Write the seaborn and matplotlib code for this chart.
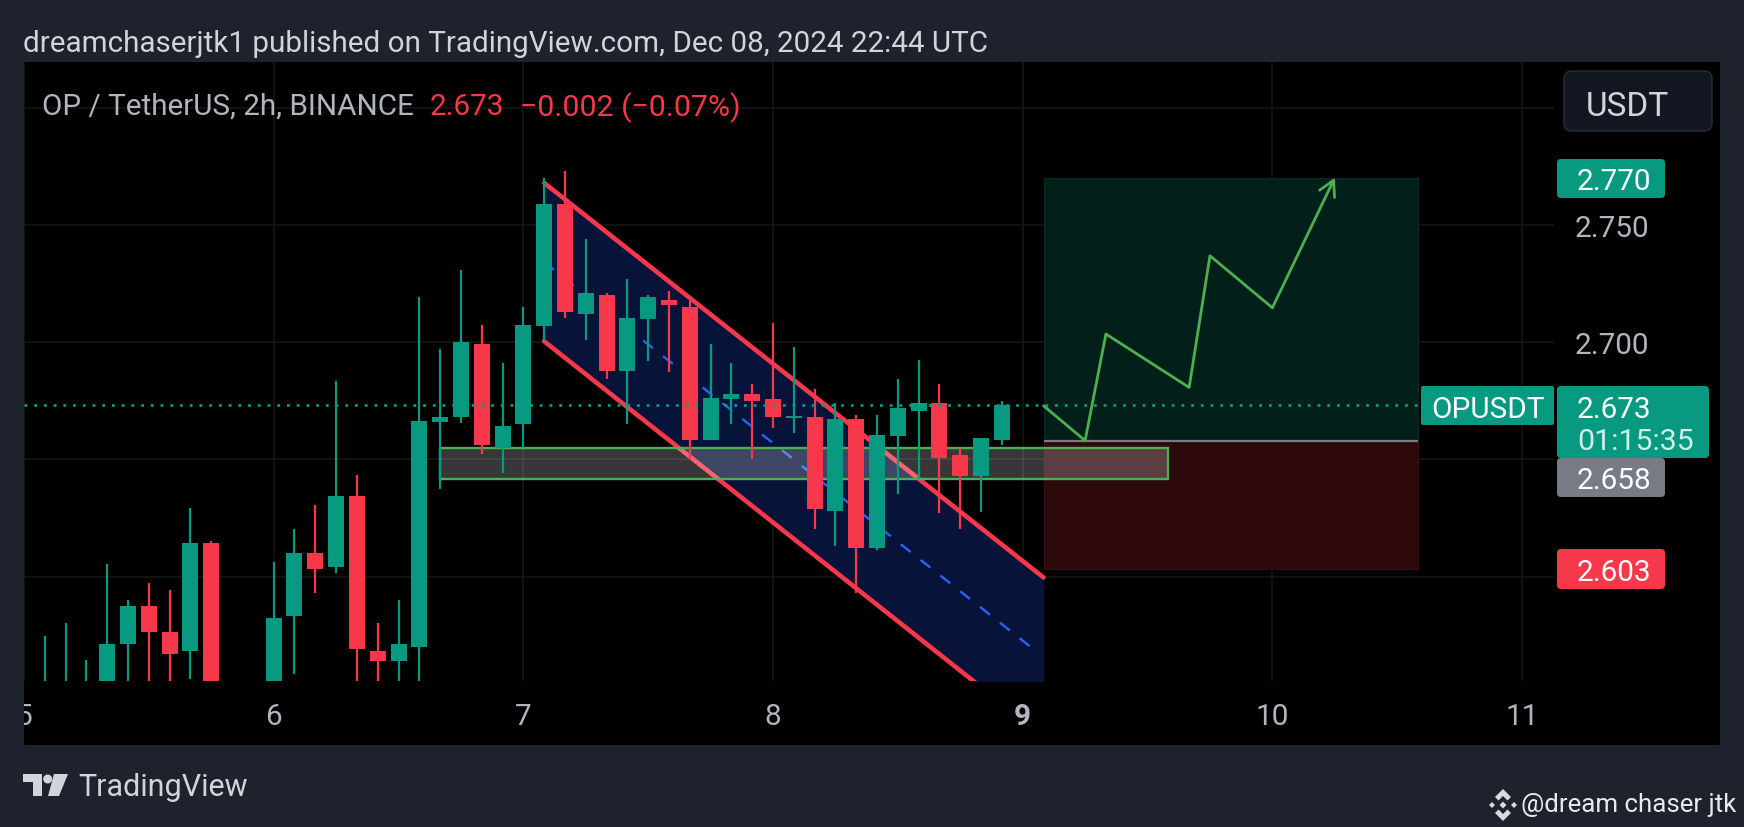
import matplotlib
matplotlib.use("Agg")
import matplotlib.pyplot as plt
from matplotlib.patches import FancyBboxPatch, Polygon, Rectangle
import numpy as np
import pandas as pd
import seaborn as sns

# candles, 12 bars a day counted from day 5 (the ones under the pane are left out)
bar_index = [1, 2, 3, 4, 5, 6, 7, 8, 9, 12, 13, 14, 15, 16, 17, 18, 19, 20, 21, 22, 23, 24,
             25, 26, 27, 28, 29, 30, 31, 32, 33, 34, 35, 36, 37, 38, 39, 40, 41, 42, 43, 44, 45, 46, 47]
opens = [2.54, 2.54, 2.54, 2.54, 2.571, 2.5873, 2.5762, 2.568, 2.6142, 2.54, 2.5831, 2.6102, 2.604,
         2.6343, 2.5681, 2.5639, 2.5699, 2.666, 2.668, 2.6991, 2.6549, 2.665,
         2.707, 2.7588, 2.7121, 2.7202, 2.6879, 2.7099, 2.7181, 2.7151, 2.6581, 2.6757, 2.678,
         2.6759, 2.6677, 2.6681, 2.628, 2.6672, 2.612, 2.66, 2.6708, 2.674, 2.6519, 2.643, 2.6581]
closes = [2.55, 2.55, 2.55, 2.5711, 2.5873, 2.5762, 2.5669, 2.6142, 2.54, 2.5823, 2.6102, 2.6033, 2.6343,
          2.569, 2.5639, 2.5711, 2.6663, 2.6681, 2.7, 2.6561, 2.6641, 2.7072,
          2.7588, 2.7129, 2.721, 2.6879, 2.7102, 2.7192, 2.7159, 2.6581, 2.676, 2.678, 2.6749,
          2.668, 2.6684, 2.629, 2.6672, 2.612, 2.6602, 2.672, 2.674, 2.6507, 2.643, 2.6591, 2.6731]
highs = [2.5744, 2.5802, 2.5642, 2.6052, 2.5901, 2.5972, 2.5942, 2.6293, 2.6151, 2.6063, 2.6202, 2.6304, 2.6834,
         2.6433, 2.5802, 2.5901, 2.7192, 2.697, 2.731, 2.7072, 2.6912, 2.7151,
         2.7701, 2.7731, 2.744, 2.7211, 2.7268, 2.7201, 2.722, 2.7178, 2.6991, 2.6912, 2.6823,
         2.7084, 2.6981, 2.6802, 2.674, 2.669, 2.669, 2.6843, 2.6922, 2.6822, 2.6549, 2.6591, 2.675]
lows = [2.53, 2.53, 2.53, 2.53, 2.53, 2.53, 2.53, 2.5564, 2.53, 2.53, 2.5582, 2.5931, 2.6013,
        2.53, 2.53, 2.53, 2.53, 2.6373, 2.6654, 2.6521, 2.644, 2.6549,
        2.7004, 2.7103, 2.7009, 2.6843, 2.6653, 2.6921, 2.6873, 2.65, 2.6581, 2.6653, 2.6501,
        2.6633, 2.6612, 2.6202, 2.613, 2.5931, 2.6114, 2.6353, 2.6418, 2.6272, 2.6202, 2.6274, 2.6563]

# drawings, in bars and prices
channel_bars = [25, 49]
channel_top = [2.768, 2.5996]
channel_low = [2.7004, 2.5317]
mid_bars = [25, 48.5]
channel_mid = [2.7342, 2.5691]
zone_bars = [20, 55]
zone_prices = [2.6418, 2.6549]
position_bars = [49, 67]
target_price = 2.770
entry_price = 2.658
stop_price = 2.603
path_bars = [49, 51, 52, 56, 57, 60, 63]
path_prices = [2.6729, 2.658, 2.7035, 2.6807, 2.7369, 2.7147, 2.7702]
last_price = 2.673

grid_prices = [2.6, 2.65, 2.7, 2.75, 2.8]
price_labels = ["", "", "2.700", "2.750", ""]
day_ticks = [5, 6, 7, 8, 9, 10, 11]

BG = "#1e222d"
GREEN = "#089981"
RED = "#f7374a"
GRID = "#151517"
TEXT = "#b2b5be"
LINE = "#4caf50"
W, H = 1744, 828


def fx(px):
    return px / W


def fy(px):
    return 1 - px / H


def to_day(bars):
    return 5 + np.asarray(bars, dtype=float) / 12


def fig_box(fig, x0, y0, x1, y1, color, edge="none", rad=4):
    fig.add_artist(FancyBboxPatch((x0, H - y1), x1 - x0, y1 - y0, boxstyle=f"round,pad=0,rounding_size={rad}",
                                  fc=color, ec=edge, lw=1, transform=px_trans, zorder=5))


def fig_label(fig, x, y, s, color="white", size=21.4, **kw):
    fig.text(fx(x), fy(y), s, color=color, fontsize=size, va="center_baseline", zorder=6, **kw)


def fig_poly(fig, pts, color):
    # points given in pixels from the top left
    xy = [(x, H - y) for x, y in pts]
    fig.add_artist(Polygon(xy, fc=color, ec="none", transform=px_trans, zorder=6))


sns.set_theme(style="dark")
plt.rcParams["font.family"] = ["Roboto", "DejaVu Sans"]

fig = plt.figure(figsize=(W / 100, H / 100), dpi=100, facecolor=BG)
px_trans = matplotlib.transforms.Affine2D().scale(1 / W, 1 / H) + fig.transFigure

# black chart panel behind everything
panel = Rectangle((24, H - 746), 1696, 683, fc="black", ec="none", transform=px_trans, zorder=-1)
fig.add_artist(panel)

ax = fig.add_axes([fx(24), fy(682), 1530 / W, 619 / H], facecolor="black")
ax.set_xlim(5.008, 11.128)
ax.set_ylim(2.5554, 2.8196)
for s in ax.spines.values():
    s.set_visible(False)
ax.set_xticks(day_ticks)
ax.set_xticklabels([str(d) for d in day_ticks], color=TEXT, fontsize=21.4)
ax.set_yticks(grid_prices)
ax.set_yticklabels(price_labels, color=TEXT, fontsize=21.4)
ax.yaxis.tick_right()
ax.tick_params(axis="x", length=0, pad=15)
ax.tick_params(axis="y", length=0, pad=15)
ax.grid(True, color=GRID, lw=1.2, zorder=0)
ax.set_axisbelow(True)
ax.get_xticklabels()[4].set_fontweight("bold")
ax.get_xticklabels()[0].set_clip_path(panel)
ax.get_xticklabels()[0].set_clip_on(True)

# long position tool
pos_x = to_day(position_bars)
ax.fill_between(pos_x, entry_price, target_price, fc="#031f1a", lw=0.7, ec="#062e26", zorder=1)
ax.fill_between(pos_x, stop_price, entry_price, fc="#2e090c", lw=0.7, ec="#3a0d11", zorder=1)
ax.plot(pos_x, [entry_price, entry_price], color="#787b86", lw=1.6, zorder=2.6, solid_capstyle="butt")

# falling channel
chan_x = to_day(channel_bars)
ax.fill_between(chan_x, channel_low, channel_top, color="#071338", lw=0, zorder=1.5)
chan = pd.DataFrame({"x": np.tile(chan_x, 2), "y": channel_top + channel_low, "edge": ["t", "t", "l", "l"]})
sns.lineplot(data=chan, x="x", y="y", units="edge", estimator=None, color=RED, linewidth=3.3, ax=ax,
             zorder=2, legend=False, solid_capstyle="round")
sns.lineplot(x=to_day(mid_bars), y=channel_mid, color="#2962ff", linewidth=1.7, ax=ax, zorder=1.8,
             linestyle=(0, (5.3, 5.4)), legend=False)

# support zone
zone_x = to_day(zone_bars)
ax.fill_between(zone_x, zone_prices[0], zone_prices[1], color="white", alpha=0.22, lw=0, zorder=2.5)
ax.add_patch(Rectangle((zone_x[0], zone_prices[0]), zone_x[1] - zone_x[0], zone_prices[1] - zone_prices[0],
                       fc="none", ec=LINE, lw=1.7, zorder=2.55))

# candles
candles = pd.DataFrame({"bar": bar_index, "open": opens, "close": closes, "high": highs, "low": lows})
candles["day"] = to_day(candles["bar"])
candles["dir"] = np.where(candles["close"] >= candles["open"], "up", "down")
palette = {"up": GREEN, "down": RED}
wicks = candles.melt(id_vars=["day", "bar", "dir"], value_vars=["high", "low"], value_name="price")
bodies = candles.melt(id_vars=["day", "bar", "dir"], value_vars=["open", "close"], value_name="price")
sns.lineplot(data=wicks, x="day", y="price", hue="dir", units="bar", estimator=None, palette=palette,
             linewidth=1.6, ax=ax, zorder=3, legend=False, solid_capstyle="butt")
sns.lineplot(data=bodies, x="day", y="price", hue="dir", units="bar", estimator=None, palette=palette,
             linewidth=11.5, ax=ax, zorder=3.1, legend=False, solid_capstyle="butt")

# last price line
ax.axhline(last_price, color=GREEN, lw=2, linestyle=(0, (1, 2.5)), zorder=3.2)

# hand drawn path with arrow
path_x = to_day(path_bars)
sns.lineplot(x=path_x[:-1], y=path_prices[:-1], sort=False, estimator=None, color=LINE, linewidth=2, ax=ax,
             zorder=4, legend=False)
ax.annotate("", xy=(path_x[-1], path_prices[-1]), xytext=(path_x[-2], path_prices[-2]), zorder=4,
            arrowprops=dict(arrowstyle="->,head_length=0.9,head_width=0.5", color=LINE, lw=2,
                            shrinkA=0, shrinkB=0))
ax.set_xlabel("")
ax.set_ylabel("")

# header and legend texts
fig_label(fig, 23, 41, "dreamchaserjtk1 published on TradingView.com, Dec 08, 2024 22:44 UTC", "#d1d4dc", 21.35)
fig_label(fig, 42, 104, "OP / TetherUS, 2h, BINANCE", TEXT, 21.3)
fig_label(fig, 430, 104, "2.673", RED, 21.3)
fig_label(fig, 520, 104, "\u22120.002 (\u22120.07%)", RED, 21.8)

# USDT button
fig_box(fig, 1564, 72, 1712, 132, "#131722", "#2a2e39", 8)
fig_label(fig, 1586, 103, "USDT", "#d1d4dc", 24)

# price scale labels
fig_box(fig, 1557, 160, 1665, 199, GREEN)
fig_label(fig, 1577, 179, "2.770")
fig_box(fig, 1557, 459, 1665, 498, "#787b86")
fig_label(fig, 1577, 478, "2.658")
fig_box(fig, 1557, 550, 1665, 590, RED)
fig_label(fig, 1577, 570, "2.603")
fig_box(fig, 1557, 387, 1709, 459, GREEN)
fig_label(fig, 1577, 407, "2.673")
fig_label(fig, 1577, 439, "01:15:35", "#cfeee8", 21.8)
fig_box(fig, 1421, 387, 1554, 426, GREEN, rad=2)
fig_label(fig, 1431, 407, "OPUSDT")

# footer
logo_color = "#d1d4dc"
fig_poly(fig, [(23, 775), (42, 775), (42, 797), (33, 797), (33, 783), (23, 783)], logo_color)
fig_poly(fig, [(54, 775), (68, 775), (59, 797), (48, 797)], logo_color)
fig.add_artist(plt.Circle((47.7, H - 780), 4.5, fc=logo_color, ec="none", transform=px_trans, zorder=6))
fig_label(fig, 78, 785, "TradingView", "#d1d4dc", 22)
fig_label(fig, 1521, 803, "@dream chaser jtk", "#e8e9ec", 18.6)

# exchange mark next to the signature
icon_x, icon_y = 1503, 806
icon_color = "#d8dade"
fig_poly(fig, [(icon_x, icon_y - 16), (icon_x + 8, icon_y - 8), (icon_x + 4.5, icon_y - 4.5), (icon_x, icon_y - 9),
               (icon_x - 4.5, icon_y - 4.5), (icon_x - 8, icon_y - 8)], icon_color)
fig_poly(fig, [(icon_x, icon_y + 16), (icon_x + 8, icon_y + 8), (icon_x + 4.5, icon_y + 4.5), (icon_x, icon_y + 9),
               (icon_x - 4.5, icon_y + 4.5), (icon_x - 8, icon_y + 8)], icon_color)
for cx, r in [(icon_x, 3.5), (icon_x - 11, 3), (icon_x + 11, 3)]:
    fig_poly(fig, [(cx - r, icon_y), (cx, icon_y - r), (cx + r, icon_y), (cx, icon_y + r)], icon_color)

fig.savefig("out.png", dpi=100, facecolor=BG)
